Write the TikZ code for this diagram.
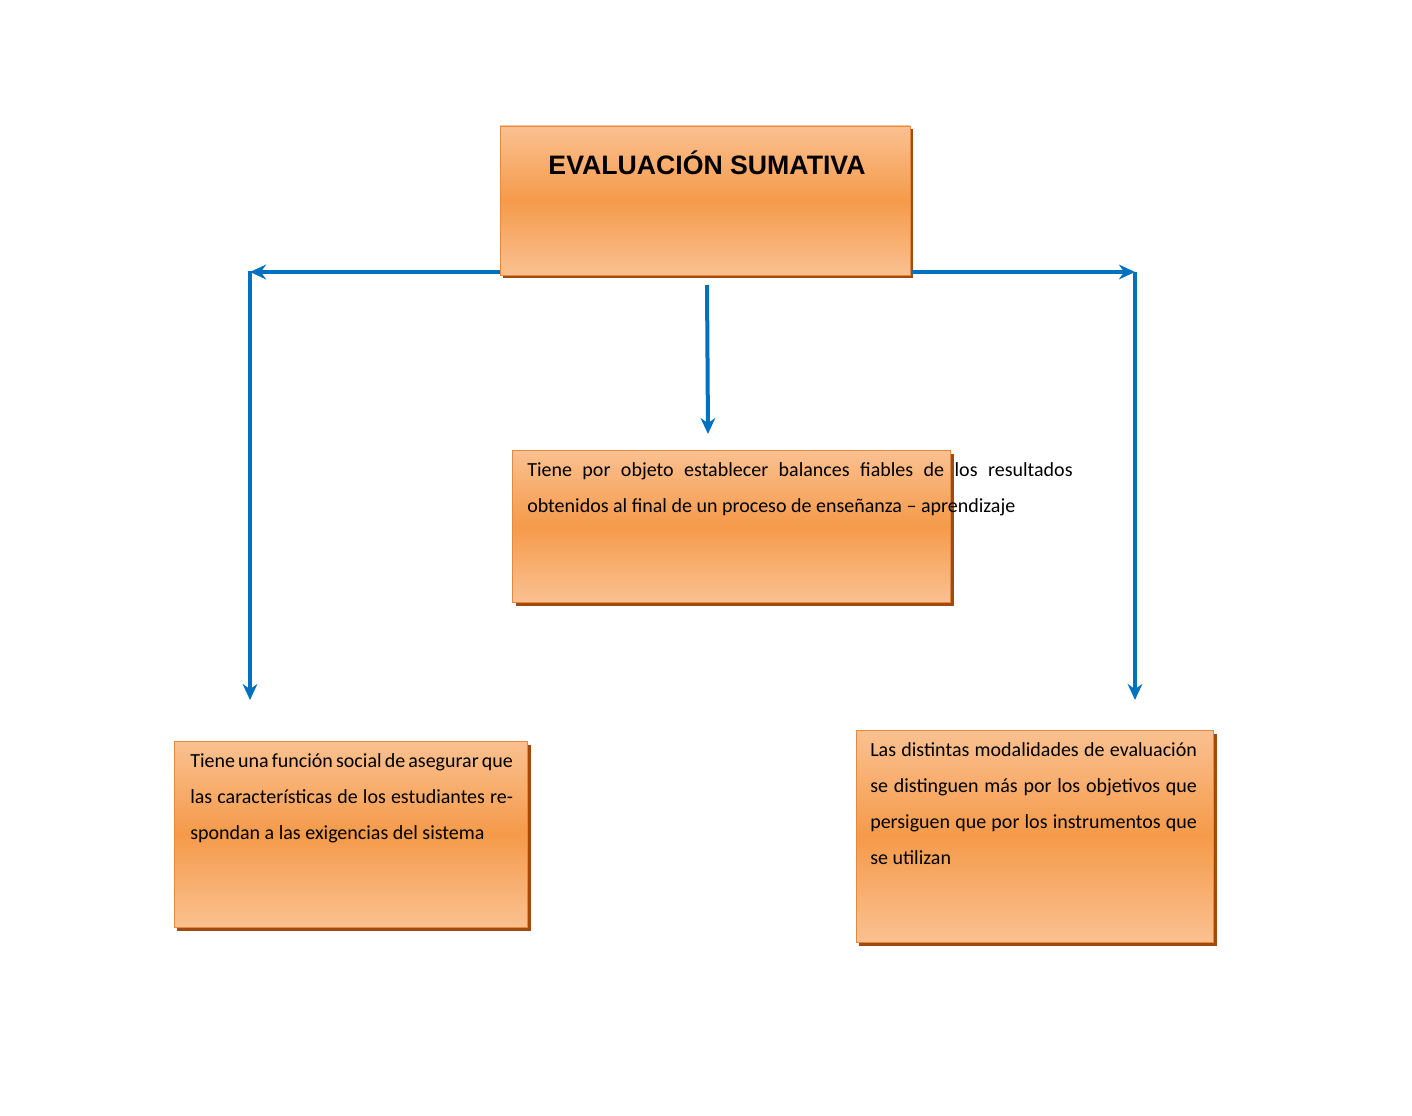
\documentclass[tikz,border=0pt]{standalone}
\usepackage{fontspec}
\setmainfont{Carlito}
\newfontfamily\titlefont{Liberation Sans}
\usetikzlibrary{arrows.meta}
\definecolor{lightor}{HTML}{FAC191}
\definecolor{midor}{HTML}{F59A4A}
\definecolor{shadowc}{HTML}{A04A10}
\definecolor{bordc}{HTML}{E8883A}
\definecolor{arrc}{HTML}{0070C0}
\tikzset{
 obox/.style={draw=bordc,line width=0.6pt,top color=lightor,bottom color=lightor,middle color=midor},
 shad/.style={fill=shadowc,draw=none},
 conn/.style={draw=arrc,line width=3pt,-{Stealth[length=12pt,width=11pt]}},
 line/.style={draw=arrc,line width=3pt},
 btext/.style={font=\fontsize{15}{27}\selectfont,align=justify,anchor=north west,inner sep=0pt}
}
\begin{document}
\begin{tikzpicture}[x=0.75pt,y=-0.75pt]
\useasboundingbox (0,0) rectangle (1412,1116);
% title
\fill[shad] (503,129) rectangle (913,278);
\draw[obox] (500,126) rectangle (910,275);
\node[font=\titlefont\bfseries\fontsize{20}{24}\selectfont] (title) at (707,163) {EVALUACIÓN SUMATIVA};
\coordinate (tl) at (500,272); \coordinate (tr) at (912,272); \coordinate (tb) at (707,285);
% middle
\fill[shad] (516,454) rectangle (954,606);
\draw[obox] (512,450) rectangle (950,602);
\node[btext,text width=409pt*0.75/0.75*0.75/0.75] (mid) at (527,462) {Tiene por objeto establecer balances fiables de los resultados obtenidos al final de un proceso de enseñanza – aprendizaje};
% left
\fill[shad] (177,745) rectangle (531,931);
\draw[obox] (174,741) rectangle (527,927);
\node[btext,text width=242pt] (left) at (190,753) {Tiene una función social de asegurar que las características de los estudiantes respondan a las exigencias del sistema};
% right
\fill[shad] (859,734) rectangle (1217,946);
\draw[obox] (856,730) rectangle (1213,942);
\node[btext,text width=245pt] (right) at (870,742) {Las distintas modalidades de evaluación se distinguen más por los objetivos que persiguen que por los instrumentos que se utilizan};
% connectors
\coordinate (lc) at (250,272); \coordinate (rc) at (1135,272);
\coordinate (le) at (250,700); \coordinate (re) at (1135,700); \coordinate (me) at (708,434);
\draw[conn] (tl) -- (lc);
\draw[conn] (tr) -- (rc);
\draw[line] (250,270.5) -- (250,272);
\draw[conn] (lc) -- (le);
\draw[conn] (rc) -- (re);
\draw[conn] (tb) -- (me);
\end{tikzpicture}
\end{document}
